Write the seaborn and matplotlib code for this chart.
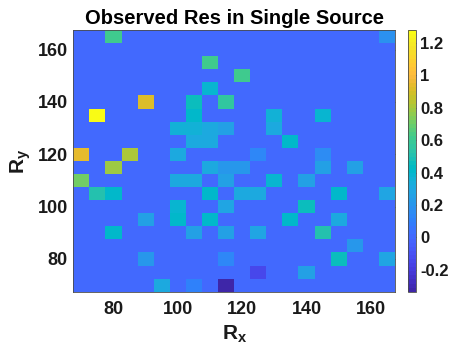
import numpy as np
import pandas as pd
import matplotlib
matplotlib.use("Agg")
import matplotlib.pyplot as plt
from matplotlib.colors import ListedColormap
import seaborn as sns

# grid of receiver positions
rx_vals = list(range(70, 170, 5))
ry_vals = list(range(70, 170, 5))

# non-zero cells (everything else is 0)
cell_x = [80, 165, 110, 120, 110, 90, 105, 115, 75, 105, 130, 145,
          100, 105, 110, 115, 130, 105, 110, 135,
          70, 85, 100, 125, 145,
          80, 110, 115, 120, 145, 155,
          70, 100, 105, 115, 130, 140,
          75, 80, 110, 120, 125, 150, 165,
          100, 115, 140,
          90, 100, 110, 135, 150,
          80, 105, 115, 125, 145,
          155,
          90, 115, 150, 165,
          125, 140,
          95, 105, 115]
cell_y = [165, 165, 155, 150, 145, 140, 140, 140, 135, 135, 135, 135,
          130, 130, 130, 130, 130, 125, 125, 125,
          120, 120, 120, 120, 120,
          115, 115, 115, 115, 115, 115,
          110, 110, 110, 110, 110, 110,
          105, 105, 105, 105, 105, 105, 105,
          100, 100, 100,
          95, 95, 95, 95, 95,
          90, 90, 90, 90, 90,
          85,
          80, 80, 80, 80,
          75, 75,
          70, 70, 70]
cell_val = [0.62, 0.18, 0.60, 0.62, 0.38, 0.92, 0.47, 0.57, 1.28, 0.42, 0.35, 0.38,
            0.35, 0.35, 0.30, 0.27, 0.30, 0.32, 0.30, 0.40,
            0.95, 0.82, 0.30, 0.12, 0.15,
            0.78, 0.30, 0.20, 0.20, 0.25, 0.25,
            0.72, 0.30, 0.30, 0.25, 0.38, 0.25,
            0.52, 0.42, 0.42, 0.30, 0.30, 0.42, 0.28,
            0.38, 0.28, 0.45,
            0.25, 0.42, 0.40, 0.40, 0.30,
            0.40, 0.25, 0.27, 0.28, 0.50,
            0.22,
            0.20, 0.12, 0.47, 0.28,
            -0.15, 0.25,
            0.30, 0.10, -0.335]

# MATLAB parula colormap
parula = [
    [0.2422, 0.1504, 0.6603], [0.2504, 0.1650, 0.7076], [0.2578, 0.1818, 0.7511],
    [0.2647, 0.1978, 0.7952], [0.2706, 0.2147, 0.8364], [0.2751, 0.2342, 0.8710],
    [0.2783, 0.2559, 0.8991], [0.2803, 0.2782, 0.9221], [0.2813, 0.3006, 0.9414],
    [0.2810, 0.3228, 0.9579], [0.2795, 0.3447, 0.9717], [0.2760, 0.3667, 0.9829],
    [0.2699, 0.3892, 0.9906], [0.2602, 0.4123, 0.9952], [0.2440, 0.4358, 0.9988],
    [0.2206, 0.4603, 0.9973], [0.1963, 0.4847, 0.9892], [0.1834, 0.5074, 0.9798],
    [0.1786, 0.5289, 0.9682], [0.1764, 0.5499, 0.9520], [0.1687, 0.5703, 0.9359],
    [0.1540, 0.5902, 0.9218], [0.1460, 0.6091, 0.9079], [0.1380, 0.6276, 0.8973],
    [0.1248, 0.6459, 0.8883], [0.1113, 0.6635, 0.8763], [0.0952, 0.6798, 0.8598],
    [0.0689, 0.6948, 0.8394], [0.0297, 0.7082, 0.8163], [0.0036, 0.7203, 0.7917],
    [0.0067, 0.7312, 0.7660], [0.0433, 0.7411, 0.7394], [0.0964, 0.7500, 0.7120],
    [0.1408, 0.7584, 0.6842], [0.1717, 0.7670, 0.6554], [0.1938, 0.7758, 0.6251],
    [0.2161, 0.7843, 0.5923], [0.2470, 0.7918, 0.5567], [0.2906, 0.7973, 0.5188],
    [0.3406, 0.8008, 0.4789], [0.3909, 0.8029, 0.4354], [0.4456, 0.8024, 0.3909],
    [0.5044, 0.7993, 0.3480], [0.5616, 0.7942, 0.3045], [0.6174, 0.7876, 0.2612],
    [0.6720, 0.7793, 0.2227], [0.7242, 0.7698, 0.1910], [0.7738, 0.7598, 0.1646],
    [0.8203, 0.7498, 0.1535], [0.8634, 0.7406, 0.1596], [0.9035, 0.7330, 0.1774],
    [0.9393, 0.7288, 0.2100], [0.9728, 0.7298, 0.2394], [0.9956, 0.7434, 0.2371],
    [0.9970, 0.7659, 0.2199], [0.9952, 0.7893, 0.2028], [0.9892, 0.8136, 0.1885],
    [0.9786, 0.8386, 0.1766], [0.9676, 0.8639, 0.1643], [0.9610, 0.8890, 0.1537],
    [0.9597, 0.9135, 0.1423], [0.9628, 0.9373, 0.1265], [0.9691, 0.9606, 0.1064],
    [0.9769, 0.9839, 0.0805]]
cmap = ListedColormap(parula)

# build the grid, top row = largest Ry
grid = pd.DataFrame(0.0, index=ry_vals[::-1], columns=rx_vals)
for x, y, v in zip(cell_x, cell_y, cell_val):
    grid.loc[y, x] = v

sns.set_style("white")
plt.rcParams['font.family'] = ['Liberation Sans', 'DejaVu Sans']
plt.rcParams['mathtext.fontset'] = 'custom'
plt.rcParams['mathtext.rm'] = 'Liberation Sans'
plt.rcParams['mathtext.bf'] = 'Liberation Sans:bold'

txt = '#1a1a1a'

fig = plt.figure(figsize=(4.74, 3.55), dpi=100)
ax = fig.add_axes([0.1547, 0.1783, 0.6786, 0.7372])
cax = fig.add_axes([0.8614, 0.1783, 0.0162, 0.7372])

sns.heatmap(grid, ax=ax, cbar_ax=cax, cmap=cmap,
            vmin=min(cell_val), vmax=max(cell_val),
            xticklabels=False, yticklabels=False)

# axis ticks in data units (cell centres 70..165, step 5)
xt = [80, 100, 120, 140, 160]
yt = [80, 100, 120, 140, 160]
ax.set_xticks([(v - 67.5) / 5 for v in xt])
ax.set_xticklabels([str(v) for v in xt], fontsize=13, fontweight='bold', color=txt)
ax.set_yticks([(167.5 - v) / 5 for v in yt])
ax.set_yticklabels([str(v) for v in yt], fontsize=13, fontweight='bold', color=txt,
                   rotation=0)
ax.tick_params(direction='in', length=3, width=0.5, top=True, right=True,
               color='#262626')
ax.tick_params(axis='x', pad=7)
ax.tick_params(axis='y', pad=4)
for s in ax.spines.values():
    s.set_visible(True)
    s.set_linewidth(0.6)
    s.set_color('#4a4a4a')

ax.set_title('Observed Res in Single Source', fontsize=14.5, fontweight='bold',
             color='black', pad=4)
ax.set_xlabel(r'$\mathbf{R_x}$', fontsize=15, labelpad=4, color=txt)
ax.set_ylabel(r'$\mathbf{R_y}$', fontsize=15, labelpad=3, color=txt)

cbar = ax.collections[0].colorbar
cbar.set_ticks([-0.2, 0, 0.2, 0.4, 0.6, 0.8, 1.0, 1.2])
cbar.set_ticklabels(['-0.2', '0', '0.2', '0.4', '0.6', '0.8', '1', '1.2'])
cax.tick_params(direction='in', length=3, width=0.5, labelsize=12, pad=3)
for lab in cax.get_yticklabels():
    lab.set_fontweight('bold')
    lab.set_color(txt)
cbar.outline.set_linewidth(0.6)
cbar.outline.set_edgecolor('#4a4a4a')

fig.savefig('out.png', dpi=100)
